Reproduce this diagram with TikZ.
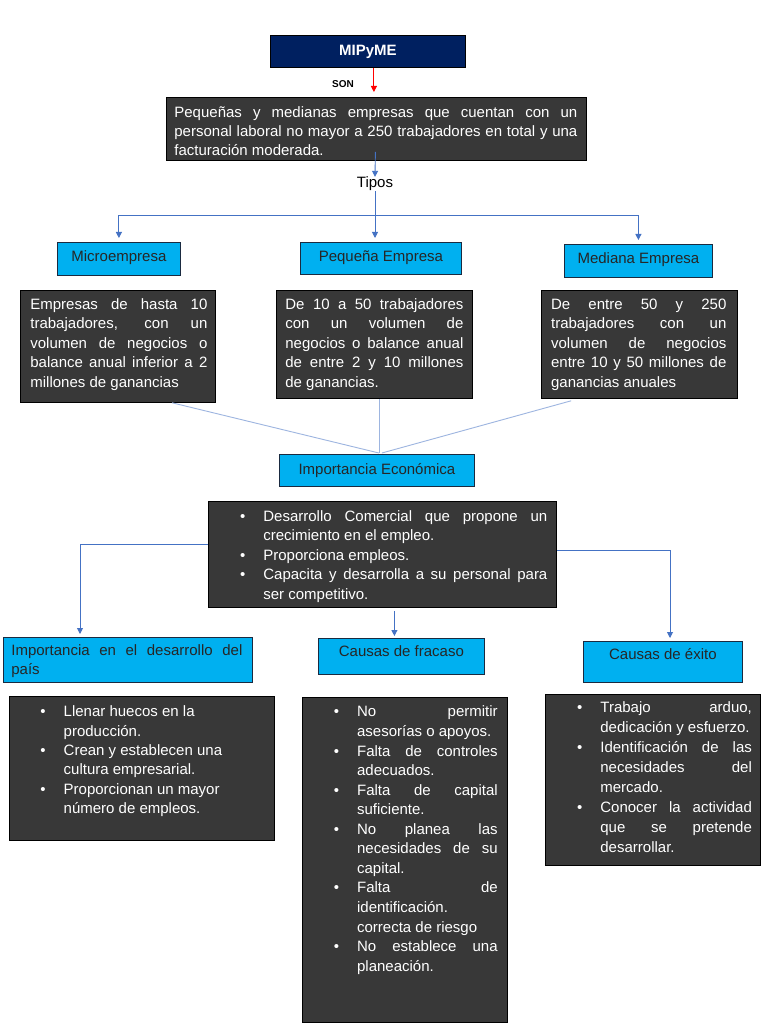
\documentclass[tikz,border=0pt]{standalone}
\usepackage{fontspec}
\setmainfont{Liberation Sans}
\usetikzlibrary{arrows.meta,calc}
\definecolor{navyb}{HTML}{002060}
\definecolor{cyanb}{HTML}{00B0F0}
\definecolor{darkb}{HTML}{383838}
\definecolor{conn}{HTML}{4472C4}
\definecolor{connl}{HTML}{9DB5E0}
\definecolor{cyanedge}{HTML}{1A2A40}
\newlength\bulgap
\setlength\bulgap{18pt}
% W H leftskip rightskip topvspace baselineskip content
\newcommand\bx[7]{\parbox[c][#2][t]{#1}{\fontsize{15}{#6}\selectfont\setlength\parskip{0pt}\setlength\parindent{0pt}\setlength\leftskip{#3}\setlength\rightskip{#4}\tolerance=10000 \hbadness=10000 \vspace*{#5}#7}}
% W H topvspace content (centred)
\newcommand\cx[4]{\parbox[c][#2][t]{#1}{\centering\fontsize{15}{19}\selectfont\vspace*{#3}\strut #4}}
\newcommand\bul{\par\noindent\strut\llap{\textbullet\hspace{\bulgap}}\ignorespaces}
\begin{document}
\begin{tikzpicture}[x=1pt,y=-1pt,
  dbox/.style={draw=black, fill=darkb, text=white, inner sep=0pt, anchor=north west, line width=0.8pt},
  cbox/.style={draw=cyanedge, fill=cyanb, text=black!85, inner sep=0pt, anchor=north west, line width=0.8pt},
  arr/.style={draw=conn, line width=0.9pt, -{Triangle[width=6pt,length=6pt]}},
  redarr/.style={draw=red, line width=0.9pt, -{Triangle[width=6pt,length=6pt]}},
  ln/.style={draw=connl, line width=0.9pt}]
\useasboundingbox[fill=white] (0,0) rectangle (768,1024);

% title
\node[draw=black, fill=navyb, text=white, inner sep=0pt, anchor=north west,
      minimum width=195pt, minimum height=32pt, line width=0.8pt,
      font=\bfseries\fontsize{15}{18}\selectfont] (mip) at (270,35) {MIPyME};
\node[inner sep=0pt, font=\bfseries\fontsize{10}{12}\selectfont] (son) at (343,84) {SON};

% definition
\node[dbox] (def) at (166,97) {\bx{420pt}{63pt}{8pt}{9pt}{6.5pt}{19}{\noindent\strut Pequeñas y medianas empresas que cuentan con un\linebreak personal laboral no mayor a 250 trabajadores en total y una\linebreak facturación moderada.}};

\node[inner sep=0pt, font=\fontsize{15}{18}\selectfont] (tipos) at (375,184) {Tipos};

% types
\node[cbox] (micro) at (57,242) {\cx{123pt}{33pt}{5.4pt}{Microempresa}};
\node[cbox] (peq) at (300,242) {\cx{161pt}{32pt}{5.4pt}{Pequeña Empresa}};
\node[cbox] (med) at (564,244) {\cx{148pt}{33pt}{5.7pt}{Mediana Empresa}};

\node[dbox] (d1) at (20,290) {\bx{195pt}{112pt}{10pt}{8pt}{5.35pt}{19.5}{\noindent\strut Empresas de hasta 10\linebreak trabajadores, con un\linebreak volumen de negocios o\linebreak balance anual inferior a 2\linebreak millones de ganancias}};
\node[dbox] (d2) at (276,290) {\bx{196pt}{108pt}{9pt}{9pt}{5.35pt}{19.5}{\noindent\strut De 10 a 50 trabajadores\linebreak con un volumen de\linebreak negocios o balance anual\linebreak de entre 2 y 10 millones\linebreak de ganancias.}};
\node[dbox] (d3) at (541,290) {\bx{196pt}{108pt}{9.7pt}{11pt}{5.35pt}{19.5}{\noindent\strut De entre 50 y 250\linebreak trabajadores con un\linebreak volumen de negocios\linebreak entre 10 y 50 millones de\linebreak ganancias anuales}};

\node[cbox] (imp) at (279,454) {\cx{195pt}{32pt}{6.4pt}{Importancia Económica}};

\node[dbox] (impd) at (208,501) {\bx{348pt}{106pt}{55pt}{9pt}{6pt}{19.6}{%
\bul Desarrollo Comercial que propone un\linebreak crecimiento en el empleo.
\bul Proporciona empleos.
\bul Capacita y desarrolla a su personal para\linebreak ser competitivo.}};

% second level labels
\node[cbox] (idp) at (3,637) {\bx{249pt}{45pt}{8pt}{10pt}{5pt}{19}{\noindent\strut Importancia en el desarrollo del\linebreak país}};
\node[cbox] (fra) at (318,638) {\cx{166pt}{36pt}{4.7pt}{Causas de fracaso}};
\node[cbox] (exi) at (583,641) {\cx{159pt}{41pt}{5pt}{Causas de éxito}};

% bottom boxes
\node[dbox] (b1) at (9,696) {\bx{265pt}{144pt}{54.3pt}{0pt plus 1fil}{6.7pt}{19.4}{%
\bul Llenar huecos en la\\ producción.
\bul Crean y establecen una\\ cultura empresarial.
\bul Proporcionan un mayor\\ número de empleos.}};
\node[dbox] (b2) at (302,697) {\bx{205pt}{325pt}{54.7pt}{9.7pt}{5.8pt}{19.56}{%
\bul No permitir\linebreak asesorías o apoyos.
\bul Falta de controles\linebreak adecuados.
\bul Falta de capital\linebreak suficiente.
\bul No planea las\linebreak necesidades de su\linebreak capital.
\bul Falta de\linebreak identificación.\\ correcta de riesgo
\bul No establece una\linebreak planeación.}};
\node[dbox] (b3) at (545,694) {\bx{215pt}{171pt}{55pt}{8.5pt}{4pt}{20}{%
\bul Trabajo arduo,\linebreak dedicación y esfuerzo.
\bul Identificación de las\linebreak necesidades del\linebreak mercado.
\bul Conocer la actividad\linebreak que se pretende\linebreak desarrollar.}};

% connectors
\coordinate (ra) at ($(mip.south)+(6,0)$);
\draw[redarr, shorten >=5pt] (ra) -- (ra |- def.north);
\coordinate (da) at ($(def.south)+(-1,-9)$);
\draw[arr] (da) -- (tipos.north);
\draw[arr, shorten >=4pt] (tipos.south) -- (tipos.south |- peq.north);
\coordinate (hb) at ($(tipos.south)+(0,24)$);
\draw[arr, shorten >=4pt] (hb) -| (micro.north);
\draw[arr, shorten >=4pt] (hb) -| (med.north);

\draw[ln] ($(d1.south)+(54.2,0)$) -- ($(imp.north)+(2,-1)$);
\draw[ln] ($(d2.south)+(5,0)$) -- ($(imp.north)+(2.5,-1)$);
\draw[ln] ($(d3.south)+(-68.3,2)$) -- ($(imp.north)+(5,-1)$);

\draw[arr, shorten >=3pt] ($(impd.west)+(0,-10)$) -| ($(idp.north west)+(77,0)$);
\draw[arr, shorten >=3pt] ($(impd.east)+(0,-4)$) -| ($(exi.north west)+(87,0)$);
\coordinate (fa) at ($(impd.south)+(12,3)$);
\draw[arr, shorten >=2pt] (fa) -- (fa |- fra.north);
\end{tikzpicture}
\end{document}
